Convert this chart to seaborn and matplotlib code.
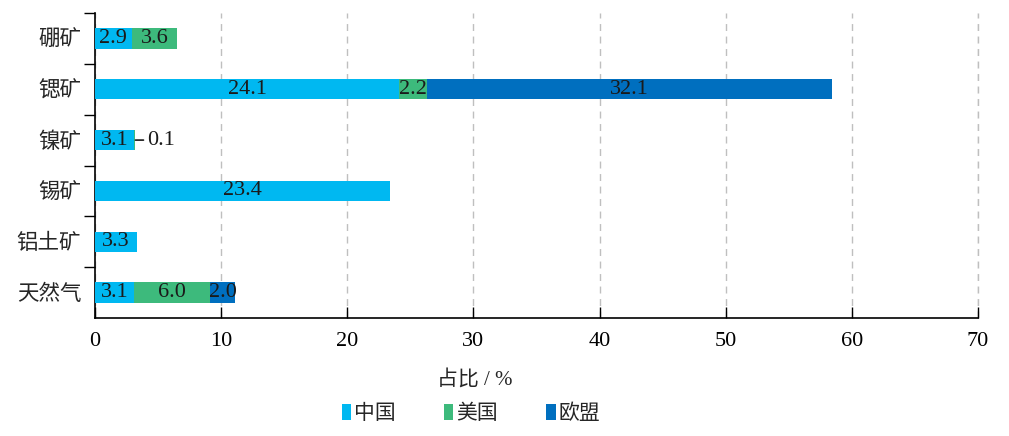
import numpy as np
import pandas as pd
import matplotlib
matplotlib.use('Agg')
import matplotlib.pyplot as plt
import seaborn as sns
from matplotlib.patches import Patch
from matplotlib.ticker import FixedLocator

sns.set_style('white')
plt.rcParams['font.family'] = ['Liberation Serif', 'Noto Sans CJK SC']

# 数据
categories = ['硼矿', '锶矿', '镍矿', '锡矿', '铝土矿', '天然气']
china = [2.9, 24.1, 3.1, 23.4, 3.3, 3.1]
usa = [3.6, 2.2, 0.1, 0.0, 0.0, 6.0]
eu = [0.0, 32.1, 0.0, 0.0, 0.0, 2.0]
series_names = ['中国', '美国', '欧盟']
colors = ['#00B8F1', '#3DBA7C', '#006FBF']
xticks = [0, 10, 20, 30, 40, 50, 60, 70]

df = pd.DataFrame({'类别': categories, '中国': china, '美国': usa, '欧盟': eu})
df['c1'] = df['中国']
df['c2'] = df['c1'] + df['美国']
df['c3'] = df['c2'] + df['欧盟']

fig = plt.figure(figsize=(10.09, 4.36), dpi=100)
ax = fig.add_axes([0.0942, 0.2706, 0.8751, 0.6996])

# 堆叠条形：先画累计总量，再逐层覆盖
for col, c in zip(['c3', 'c2', 'c1'], colors[::-1]):
    sns.barplot(data=df, x=col, y='类别', order=categories, orient='h',
                color=c, width=0.4, saturation=1, linewidth=0, ax=ax, zorder=3)

# 数据标签
for i in range(len(categories)):
    segs = [(0, df['c1'][i], china[i]), (df['c1'][i], df['c2'][i], usa[i]),
            (df['c2'][i], df['c3'][i], eu[i])]
    for left, right, v in segs:
        if v >= 0.5:
            ax.text((left + right) / 2, i, f'{v:.1f}', ha='center', va='center',
                    fontsize=16, color='#1a1a1a', zorder=5)
# 镍矿 美国 0.1 引线标签
i = categories.index('镍矿')
ax.annotate(f'{usa[i]:.1f}', xy=(df['c2'][i], i), xytext=(df['c2'][i] + 0.9, i),
            ha='left', va='center', fontsize=16, color='#1a1a1a',
            arrowprops=dict(arrowstyle='-', color='#1a1a1a', lw=1.2,
                            shrinkA=0, shrinkB=0))

ax.set_xlim(0, 70)
ax.set_ylim(len(categories) - 0.5, -0.5)
ax.set_xticks(xticks)
ax.set_xticklabels([str(t) for t in xticks])
ax.xaxis.grid(True, linestyle=(0, (5, 4)), color='#bfbfbf', lw=1, zorder=0)
ax.axvline(xticks[-1], linestyle=(0, (5, 4)), color='#bfbfbf', lw=1,
           zorder=0, clip_on=False)
ax.yaxis.grid(False)

for s in ['top', 'right']:
    ax.spines[s].set_visible(False)
for s in ['left', 'bottom']:
    ax.spines[s].set_color('black')
    ax.spines[s].set_linewidth(1.2)

ax.tick_params(axis='x', direction='in', length=8, width=1, colors='black',
               labelsize=16, pad=10, bottom=True)
ax.tick_params(axis='y', which='major', length=0, labelsize=15.5, pad=10)
ax.yaxis.set_minor_locator(FixedLocator(np.arange(-0.5, len(categories) - 1, 1.0)))
ax.tick_params(axis='y', which='minor', direction='out', length=8, width=1,
               colors='black', left=True)

ax.set_ylabel('')
ax.set_xlabel('占比 / %', fontsize=15)
ax.xaxis.set_label_coords(0.43, -0.168)

handles = [Patch(facecolor=c, edgecolor='none') for c in colors]
fig.legend(handles, series_names, loc='center', bbox_to_anchor=(0.467, 0.05),
           ncol=3, frameon=False, fontsize=15, handlelength=0.45,
           handleheight=0.8, handletextpad=0.15, columnspacing=2.3)

fig.savefig('out.png', dpi=100)
